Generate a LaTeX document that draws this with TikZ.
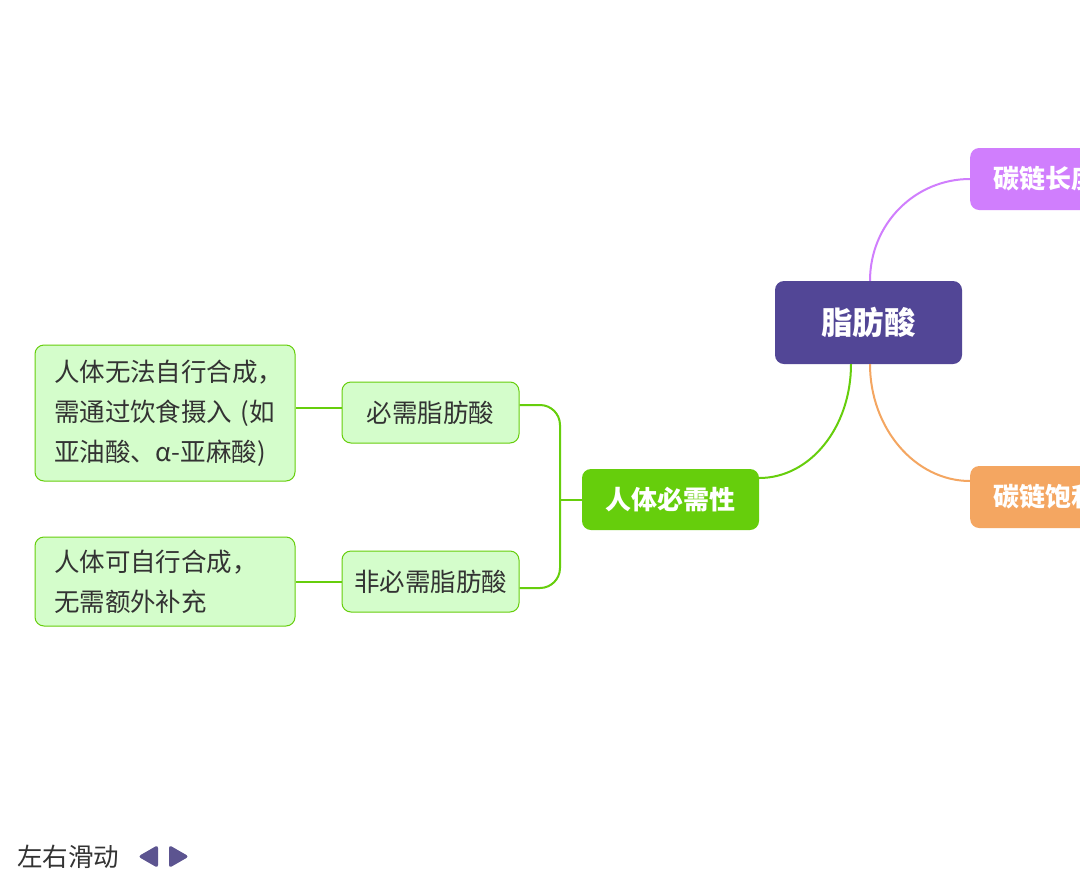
\documentclass[tikz,border=0pt]{standalone}
\usepackage{fontspec}
\setmainfont{Noto Sans CJK SC}
\definecolor{rootc}{HTML}{524696}
\definecolor{lenc}{HTML}{D07EFD}
\definecolor{satc}{HTML}{F4A661}
\definecolor{grnc}{HTML}{66CE0C}
\definecolor{lgrn}{HTML}{D4FDCB}
\definecolor{txtc}{HTML}{333333}
\definecolor{navc}{HTML}{5C5490}

\begin{document}
\begin{tikzpicture}[x=1pt,y=-1pt,
  topic/.style={rounded corners=9pt,text=white,font=\bfseries\fontsize{26}{30}\selectfont,minimum height=62pt,inner sep=0pt},
  sub/.style={draw=grnc,line width=1pt,fill=lgrn,rounded corners=9pt,text=txtc,font=\fontsize{25.5}{30}\selectfont,minimum width=177pt,minimum height=61pt,inner sep=0pt},
  leaf/.style={sub,font=\fontsize{25.5}{40}\selectfont,text width=222pt,align=left,minimum width=260pt,inner xsep=19pt},
  link/.style={line width=2pt}]
\useasboundingbox (0,0) rectangle (1080,884);
\fill[white] (0,0) rectangle (1080,884);
\clip (0,0) rectangle (1080,884);

\node[topic,fill=rootc,font=\bfseries\fontsize{31.5}{34}\selectfont,minimum width=187pt,minimum height=83pt] (fat) at (868.5,322.5) {脂肪酸};
\node[topic,fill=lenc,anchor=west,minimum width=150pt] (len) at (970,179) {碳链长度};
\node[topic,fill=satc,anchor=west,minimum width=176pt] (sat) at (970,497) {碳链饱和度};
\node[topic,fill=grnc,minimum width=177pt,minimum height=61pt] (need) at (670.5,499.5) {人体必需性};

\node[sub] (ess) at (430.5,412.5) {必需脂肪酸};
\node[sub] (noness) at (430.5,581.5) {非必需脂肪酸};

\node[leaf,minimum height=136pt] (why) at (165,413) {人体无法自行合成，\\需通过饮食摄入 (如\\亚油酸、α-亚麻酸)};
\node[leaf,minimum height=89pt] (how) at (165,581.5) {人体可自行合成，\\无需额外补充};

\coordinate (fork) at (560,499.5);

\draw[link,lenc] ([xshift=1.5pt]fat.north) .. controls +(0,-57) and +(-55,0) .. (len.west);
\draw[link,satc] ([xshift=1.5pt]fat.south) .. controls +(0,64) and +(-55,0) .. ([yshift=16pt]sat.west);
\draw[link,grnc] ([xshift=-17.5pt]fat.south) .. controls +(0,63) and +(51,0) .. ([yshift=21.5pt]need.east);

\draw[link,grnc] (need.west) -- (fork);
\draw[link,grnc,rounded corners=20pt] ([yshift=7.5pt]ess.east) -- (560,405) -- (560,588) -- ([yshift=-6.5pt]noness.east);
\draw[link,grnc] ([yshift=4.5pt]ess.west) -- ([yshift=5pt]why.east);
\draw[link,grnc] (noness.west) -- (how.east);

\node[anchor=west,text=txtc,font=\fontsize{25.5}{30}\selectfont,inner sep=0pt] (hint) at (17,857) {左右滑动};
\fill[navc,rounded corners=3pt] (158,845) -- (158,868) -- (138,856.5) -- cycle;
\fill[navc,rounded corners=3pt] (169,845) -- (169,868) -- (189,856.5) -- cycle;

\end{tikzpicture}
\end{document}
